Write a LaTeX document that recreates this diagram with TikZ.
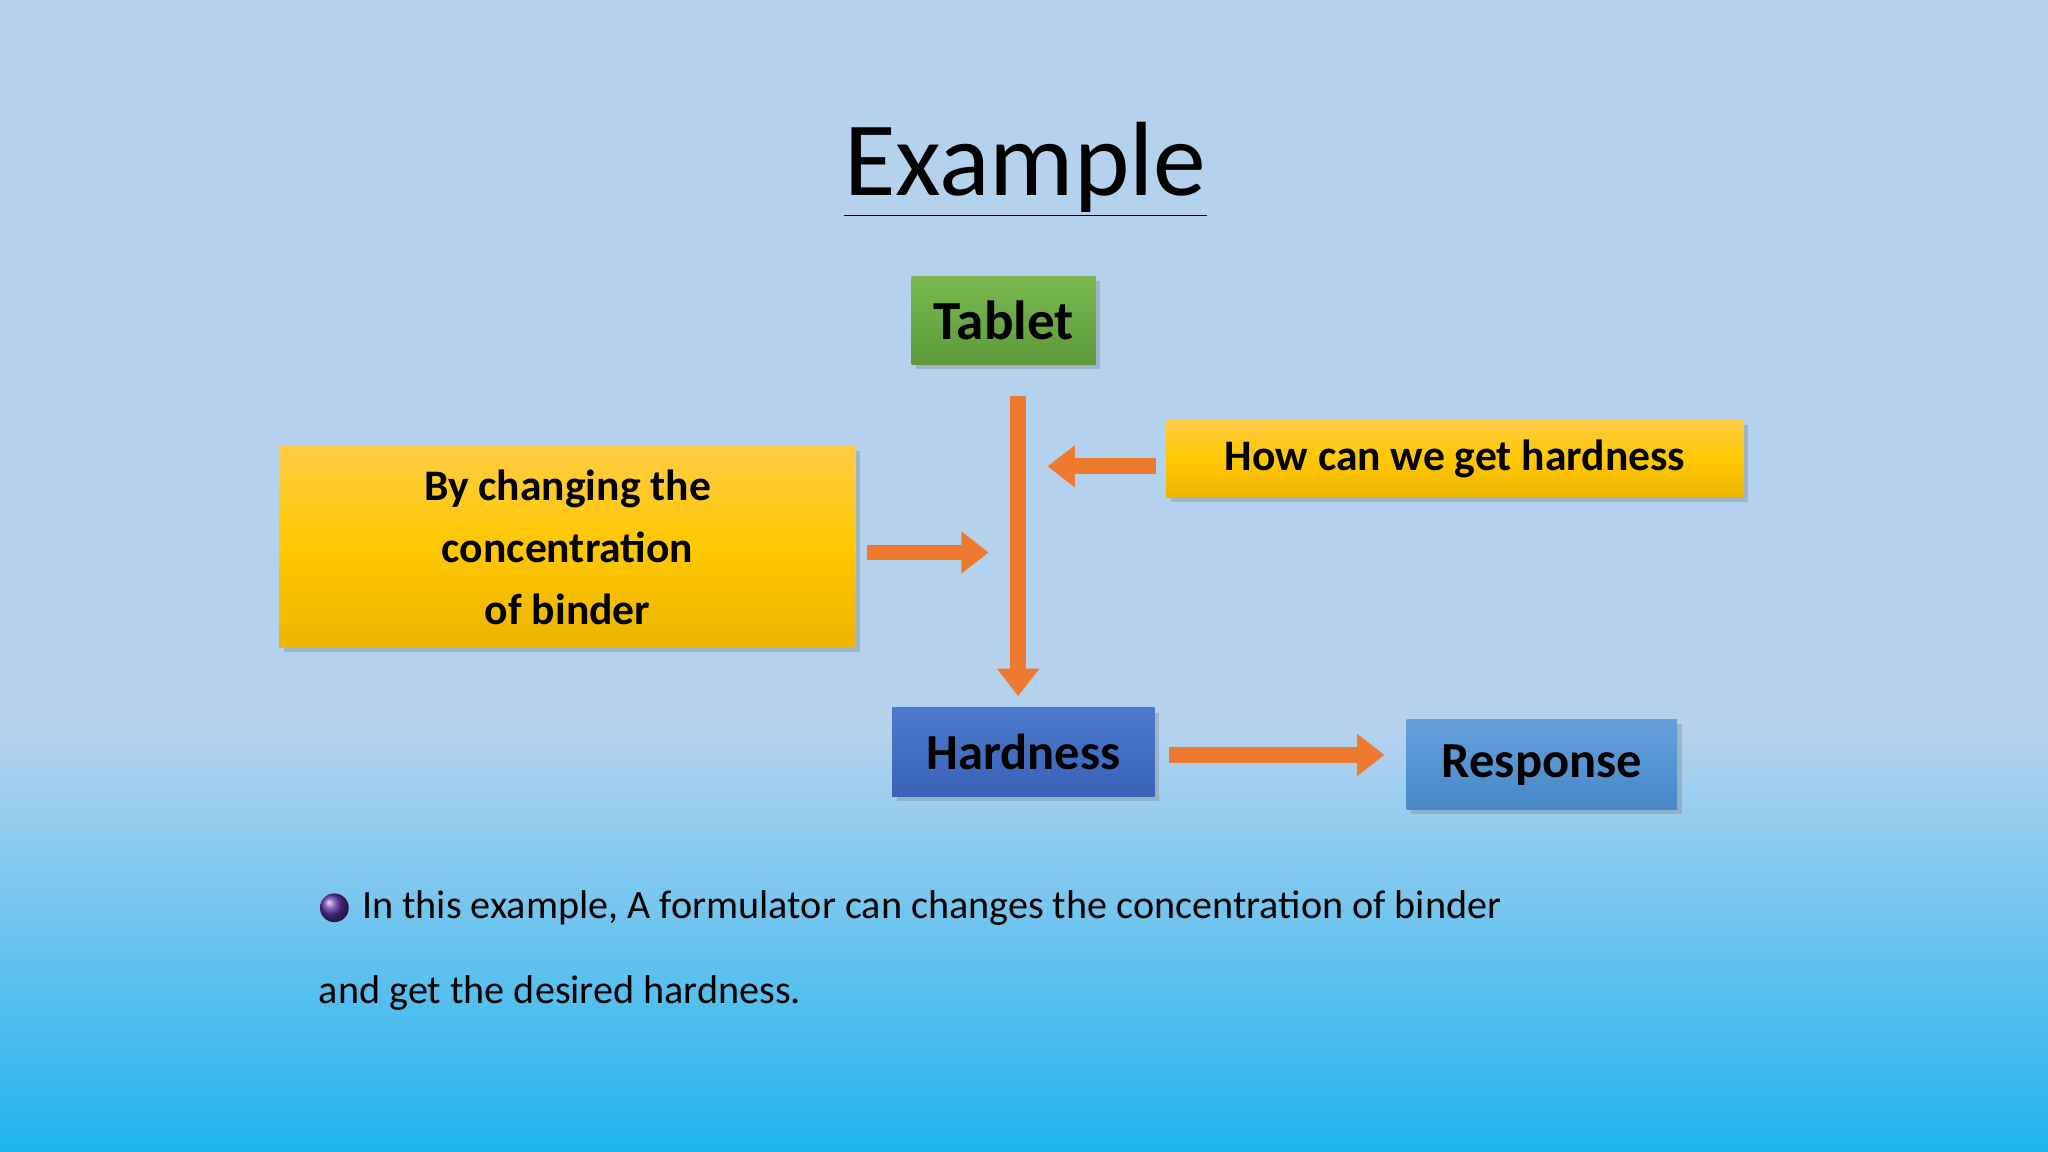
\documentclass[tikz,border=0pt]{standalone}
\usepackage{fontspec}
\setmainfont{Carlito}
\usetikzlibrary{arrows.meta,shadows}
\definecolor{bgtop}{HTML}{B4D2EE}
\definecolor{bgbot}{HTML}{1EB4EE}
\definecolor{org}{HTML}{EE7A30}
\definecolor{ytop}{HTML}{FFCC44}
\definecolor{ymid}{HTML}{FFC800}
\definecolor{ybot}{HTML}{ECB400}
\definecolor{gtop}{HTML}{7AB850}
\definecolor{gbot}{HTML}{5C9A3A}
\definecolor{btop}{HTML}{4C7ACC}
\definecolor{bbot}{HTML}{3A62B8}
\definecolor{rtop}{HTML}{64A0DC}
\definecolor{rbot}{HTML}{4888C8}
\definecolor{ballc}{HTML}{5A32A0}
\tikzset{
 box/.style={draw=none,minimum height=#1,inner sep=0pt,drop shadow={opacity=0.35,shadow xshift=2pt,shadow yshift=-2pt}},
 yel/.style={top color=ytop,bottom color=ybot,middle color=ymid},
 oarrow/.style={draw=org,line width=0.24cm,-{Triangle[length=0.42cm,width=0.62cm]}},
}
\begin{document}
\begin{tikzpicture}[x=0.02cm,y=-0.02cm]
\useasboundingbox (0,0) rectangle (1568,882);
\fill[bgtop] (0,0) rectangle (1568,561);
\shade[top color=bgtop,bottom color=bgbot,draw=none] (0,560) rectangle (1568,882);
\node[font=\fontsize{46}{50}\selectfont] (title) at (785,130) {\underline{Example}};
\node[box=1.34cm,minimum width=2.82cm,top color=gtop,bottom color=gbot,font=\bfseries\fontsize{24}{28}\selectfont] (tab) at (768.5,245.5) {Tablet};
\node[box=1.18cm,minimum width=8.84cm,yel,font=\bfseries\fontsize{19}{22}\selectfont] (how) at (1114,351.5) {How can we get hardness};
\node[box=3.08cm,minimum width=8.82cm,yel,align=center,font=\bfseries\fontsize{19}{27}\selectfont] (by) at (434.5,419) {By changing the\\concentration\\of binder};
\node[box=1.36cm,minimum width=4.02cm,top color=btop,bottom color=bbot,font=\bfseries\fontsize{22}{26}\selectfont] (hard) at (783.5,576) {Hardness};
\node[box=1.38cm,minimum width=4.14cm,top color=rtop,bottom color=rbot,font=\bfseries\fontsize{22}{26}\selectfont] (resp) at (1180.5,585.5) {Response};
\coordinate (vs) at (779.5,303);
\coordinate (ve) at (779.5,533);
\draw[oarrow] (vs) -- (ve);
\coordinate (hs) at (885,357);
\coordinate (he) at (802,357);
\draw[oarrow] (hs) -- (he);
\coordinate (bs) at (664,423);
\coordinate (be) at (757,423);
\draw[oarrow] (bs) -- (be);
\coordinate (rs) at (895,578);
\coordinate (re) at (1060,578);
\draw[oarrow] (rs) -- (re);
\shade[ball color=ballc] (256,695) circle (11);
\node[anchor=west,font=\fontsize{17.5}{20}\selectfont] (t1) at (271,695) {In this example, A formulator can changes the concentration of binder};
\node[anchor=west,font=\fontsize{17.5}{20}\selectfont] (t2) at (238,760) {and get the desired hardness.};
\end{tikzpicture}
\end{document}
